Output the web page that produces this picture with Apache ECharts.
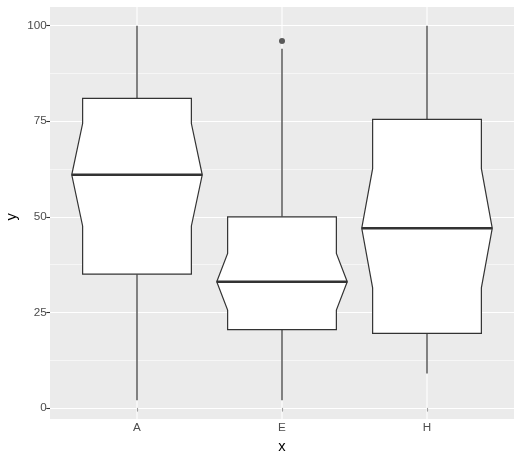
<!DOCTYPE html>
<html>
<head>
<meta charset="utf-8">
<script src="https://cdn.jsdelivr.net/npm/echarts@6/dist/echarts.min.js"></script>
<style>
html, body { margin: 0; padding: 0; background: #fff; }
#chart { width: 521px; height: 460px; }
</style>
</head>
<body>
<div id="chart"></div>
<script>
// box stats per group
const categories = ['A', 'E', 'H'];
const whiskerLow = [2, 2, 9];
const hingeLow = [35, 20.5, 19.5];
const notchLow = [47.6, 25.6, 31.4];
const medians = [61, 33, 47];
const notchHigh = [74.4, 40.4, 62.6];
const hingeHigh = [81, 50, 75.5];
const whiskerHigh = [100, 94, 100];
const outliers = [['E', 96]];
const yTicks = [0, 25, 50, 75, 100];

// panel limits (ggplot 5% expansion)
const yPanelMin = -2.9, yPanelMax = 104.9;
const boxHalf = 0.375, notchHalf = 0.45;
const ink = '#333333';

let boxData = categories.map((c, i) => [i + 1, whiskerLow[i], hingeLow[i], notchLow[i],
    medians[i], notchHigh[i], hingeHigh[i], whiskerHigh[i]]);
let outlierData = outliers.map(o => [categories.indexOf(o[0]) + 1, o[1]]);

function renderBox(params, api) {
    let x = api.value(0);
    let pt = (dx, v) => api.coord([x + dx, v]);
    let wl = api.value(1), hl = api.value(2), nl = api.value(3), md = api.value(4),
        nh = api.value(5), hh = api.value(6), wh = api.value(7);
    let gTop = pt(0, yPanelMax), gBot = pt(0, yPanelMin);
    let path = [
        pt(-boxHalf, hl), pt(-boxHalf, nl), pt(-notchHalf, md), pt(-boxHalf, nh), pt(-boxHalf, hh),
        pt(boxHalf, hh), pt(boxHalf, nh), pt(notchHalf, md), pt(boxHalf, nl), pt(boxHalf, hl)
    ];
    let lineStyle = {stroke: ink, lineWidth: 1.2};
    return {
        type: 'group',
        children: [
            // vertical major gridline
            {type: 'line', shape: {x1: gTop[0], y1: gTop[1], x2: gBot[0], y2: gBot[1]},
                style: {stroke: '#ffffff', lineWidth: 1.07}},
            {type: 'line', shape: {x1: pt(0, hh)[0], y1: pt(0, hh)[1], x2: pt(0, wh)[0], y2: pt(0, wh)[1]},
                style: lineStyle},
            {type: 'line', shape: {x1: pt(0, hl)[0], y1: pt(0, hl)[1], x2: pt(0, wl)[0], y2: pt(0, wl)[1]},
                style: lineStyle},
            {type: 'polygon', shape: {points: path}, style: {fill: '#ffffff', stroke: ink, lineWidth: 1.2}},
            {type: 'line', shape: {x1: pt(-notchHalf, md)[0], y1: pt(0, md)[1], x2: pt(notchHalf, md)[0], y2: pt(0, md)[1]},
                style: {stroke: ink, lineWidth: 2.4}}
        ]
    };
}

let chart = echarts.init(document.getElementById('chart'));
chart.setOption({
    animation: false,
    textStyle: {fontFamily: 'Liberation Sans, Arial, sans-serif'},
    graphic: [{
        type: 'rect', z: -10, silent: true,
        shape: {x: 50, y: 7, width: 464, height: 412},
        style: {fill: '#EBEBEB'}
    }],
    grid: {left: 50, right: 7, top: 25.7, bottom: 52.1, containLabel: false, outerBoundsMode: 'none'},
    xAxis: {
        type: 'value', min: 0.4, max: 3.6, offset: 11,
        name: 'x', nameLocation: 'middle', nameGap: 21, nameMoveOverlap: false,
        nameTextStyle: {color: '#000', fontSize: 14.7},
        axisLine: {show: false},
        axisTick: {show: true, length: 3.7, customValues: [1, 2, 3], lineStyle: {color: ink, width: 1.07}},
        axisLabel: {customValues: [1, 2, 3], margin: 3, color: '#4D4D4D', fontSize: 11.7,
            formatter: v => categories[Math.round(v) - 1]},
        splitLine: {show: false}
    },
    yAxis: {
        type: 'value', min: yTicks[0], max: yTicks[yTicks.length - 1], interval: 25,
        name: 'y', nameLocation: 'middle', nameGap: 31, nameMoveOverlap: false,
        nameTextStyle: {color: '#000', fontSize: 14.7},
        axisLine: {show: false},
        axisTick: {show: true, length: 3.7, lineStyle: {color: ink, width: 1.07}},
        axisLabel: {margin: 3.3, color: '#4D4D4D', fontSize: 11.7},
        splitLine: {show: true, lineStyle: {color: '#ffffff', width: 1.07}},
        minorTick: {show: false, splitNumber: 2},
        minorSplitLine: {show: true, lineStyle: {color: '#ffffff', width: 0.55}}
    },
    series: [
        {
            type: 'custom', renderItem: renderBox, clip: false,
            encode: {x: 0, y: [1, 2, 3, 4, 5, 6, 7]},
            data: boxData
        },
        {
            type: 'scatter', symbol: 'circle', symbolSize: 6,
            itemStyle: {color: ink},
            data: outlierData
        }
    ]
});
</script>
</body>
</html>
